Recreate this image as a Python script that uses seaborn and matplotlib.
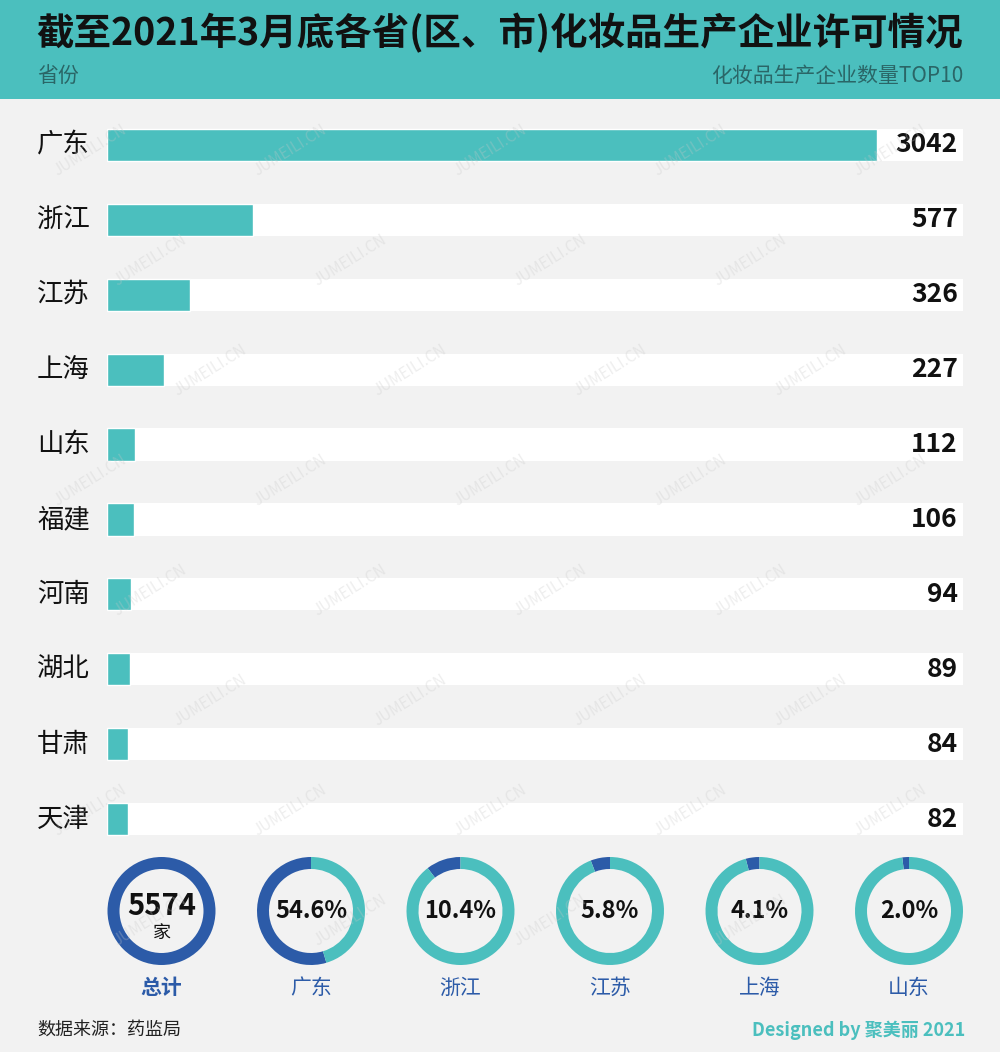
import numpy as np
import pandas as pd
import matplotlib.pyplot as plt
from matplotlib.patches import Rectangle
import seaborn as sns

# data
provinces = ['广东', '浙江', '江苏', '上海', '山东', '福建', '河南', '湖北', '甘肃', '天津']
counts = [3042, 577, 326, 227, 112, 106, 94, 89, 84, 82]
total = 5574
donut_labels = ['总计', '广东', '浙江', '江苏', '上海', '山东']
donut_shares = [100.0, 54.6, 10.4, 5.8, 4.1, 2.0]

TEAL = '#4bbfbe'
BLUE = '#2c5ba8'
BG = '#f2f2f2'

sns.set_theme(style='white')
plt.rcParams['font.family'] = ['Noto Sans CJK SC', 'DejaVu Sans']

W, H = 1000, 1052
fig = plt.figure(figsize=(W / 100, H / 100), dpi=100, facecolor=BG)


def px_axes(x0, y0, x1, y1):
    # axes placed by pixel box (top-left origin)
    return fig.add_axes([x0 / W, 1 - y1 / H, (x1 - x0) / W, (y1 - y0) / H])


# header band
fig.add_artist(Rectangle((0, 1 - 99 / H), 1, 99 / H, transform=fig.transFigure,
                         facecolor=TEAL, edgecolor='none', zorder=0))
fig.text(36 / W, 1 - 33 / H, '截至2021年3月底各省(区、市)化妆品生产企业许可情况',
         fontsize=27, fontweight='bold', color='#111111', va='center', ha='left')
fig.text(37 / W, 1 - 76 / H, '省份', fontsize=15, color='#2a6667', va='center', ha='left')
fig.text(963 / W, 1 - 76 / H, '化妆品生产企业数量TOP10', fontsize=15, color='#2a6667',
         va='center', ha='right')

# bar chart
df = pd.DataFrame({'省份': provinces, '数量': counts})
xmax = 3382
bar_h = 0.43
ax = px_axes(107, 107.5, 963, 856.5)
ax.set_facecolor('none')
for i in range(len(provinces)):
    ax.axhspan(i - bar_h / 2, i + bar_h / 2, color='white', zorder=0, lw=0)
sns.barplot(data=df, y='省份', x='数量', orient='h', color=TEAL, saturation=1,
            width=bar_h, ax=ax, zorder=2)
ax.set_xlim(0, xmax)
ax.set_ylim(len(provinces) - 0.5, -0.5)
ax.set_xlabel('')
ax.set_ylabel('')
ax.set_xticks([])
ax.set_yticks([])
for s in ax.spines.values():
    s.set_visible(False)

ytrans = ax.get_yaxis_transform()
for i, (p, c) in enumerate(zip(provinces, counts)):
    ax.text(-70 / 856, i, p, transform=ytrans, ha='left', va='center',
            fontsize=19, fontweight='medium', color='#111111')
    ax.text(0.994, i, f'{c}', transform=ytrans, ha='right', va='center',
            fontsize=19, fontweight='bold', color='#111111', zorder=3)

# donuts
r_px = 54
for k, (lab, share) in enumerate(zip(donut_labels, donut_shares)):
    cx, cy = 161.5 + 149.5 * k, 911
    dax = px_axes(cx - r_px, cy - r_px, cx + r_px, cy + r_px)
    dax.pie([share, 100 - share], colors=[BLUE, TEAL], startangle=90, counterclock=True,
            radius=1, wedgeprops=dict(width=12 / r_px, linewidth=0))
    dax.set_xlim(-1, 1)
    dax.set_ylim(-1, 1)
    dax.set_aspect('equal')
    dax.set_axis_off()
    if k == 0:
        dax.text(0, 0.1, f'{total}', ha='center', va='center', fontsize=21,
                 fontweight='bold', color='#111111')
        dax.text(0, -0.4, '家', ha='center', va='center', fontsize=13, color='#111111')
    else:
        dax.text(0, 0, f'{share:.1f}%', ha='center', va='center', fontsize=17,
                 fontweight='bold', color='#111111')
    fig.text(cx / W, 1 - 988 / H, lab, ha='center', va='center', fontsize=15,
             color=BLUE, fontweight='bold' if k == 0 else 'normal')

# footer
fig.text(37 / W, 1 - 1030 / H, '数据来源：药监局', fontsize=13, color='#222222',
         ha='left', va='center')
fig.text(965 / W, 1 - 1030 / H, 'Designed by 聚美丽 2021', fontsize=13, color=TEAL,
         fontweight='bold', ha='right', va='center')

# faint watermark, kept inside the canvas
for row, wy in enumerate(np.arange(150, 1020, 110)):
    for wx in np.arange(90 + (row % 3) * 60, 930, 200):
        fig.text(wx / W, 1 - wy / H, 'JUMEILI.CN', fontsize=11, color='#c8c8c8',
                 alpha=0.3, rotation=32, ha='center', va='center', zorder=10)

fig.savefig('out.png', dpi=100, facecolor=BG)
